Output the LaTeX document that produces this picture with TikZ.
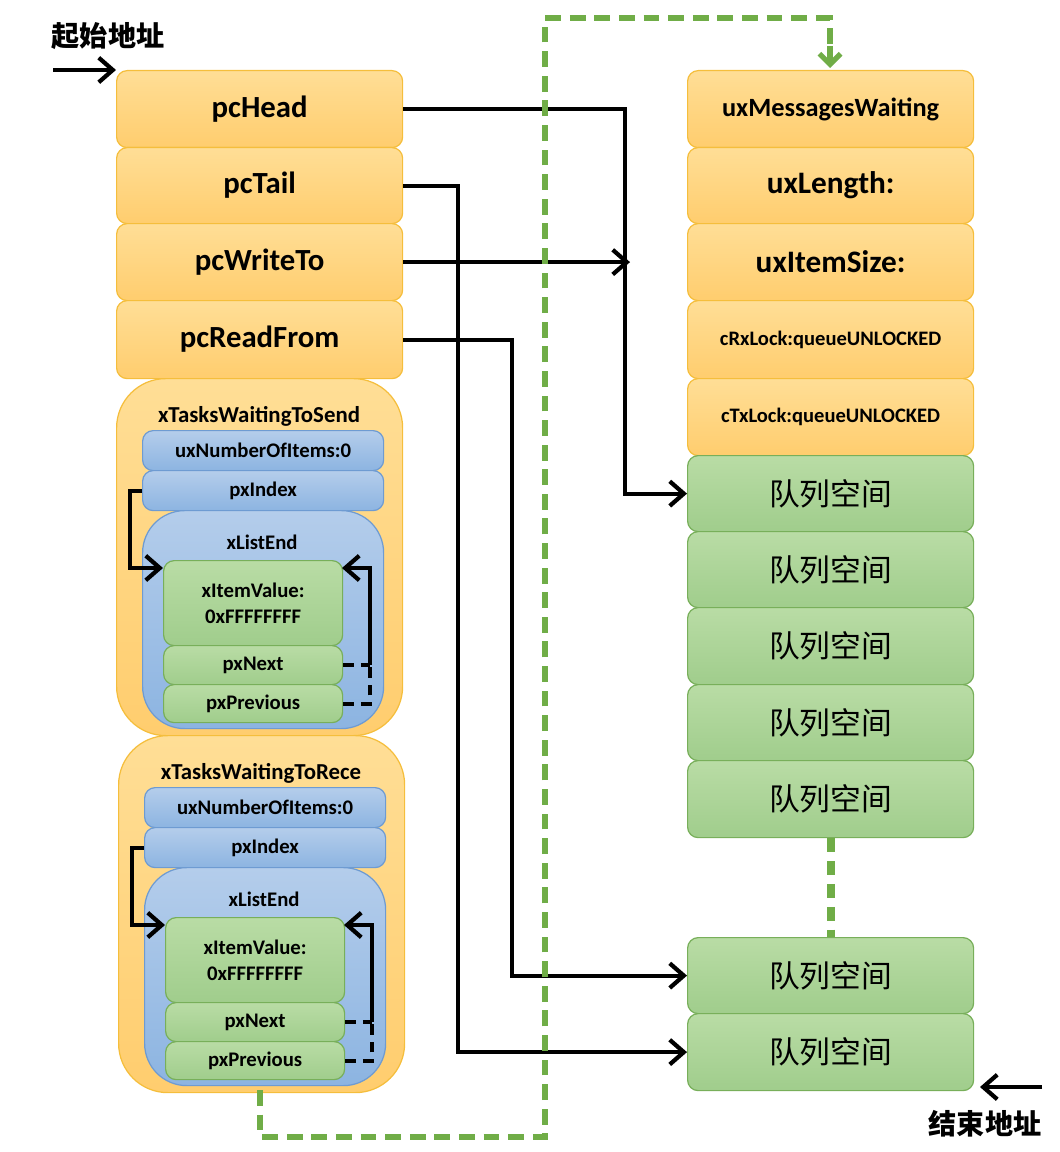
\documentclass[tikz,border=0pt]{standalone}
\usepackage{fontspec}
\setmainfont{Carlito}
\newfontfamily\cjk{Noto Sans CJK SC}
\usetikzlibrary{positioning,arrows.meta}

\definecolor{otop}{RGB}{255,222,150}
\definecolor{obot}{RGB}{255,205,110}
\definecolor{oline}{RGB}{245,190,60}
\definecolor{btop}{RGB}{180,205,235}
\definecolor{bbot}{RGB}{140,180,225}
\definecolor{bline}{RGB}{110,155,210}
\definecolor{gtop}{RGB}{185,220,165}
\definecolor{gbot}{RGB}{160,205,140}
\definecolor{gline}{RGB}{120,175,90}
\definecolor{gdashc}{RGB}{112,173,71}

\tikzset{
  box/.style={rounded corners=6pt, line width=0.7pt, inner sep=0pt, font=\bfseries},
  orange/.style={box, draw=oline, top color=otop, bottom color=obot},
  blue/.style={box, draw=bline, top color=btop, bottom color=bbot},
  green/.style={box, draw=gline, top color=gtop, bottom color=gbot},
  link/.style={line width=2.4pt, -{Straight Barb[length=8pt,width=14pt]}},
  plain/.style={line width=2.4pt},
  gdash/.style={draw=gdashc, line width=3pt, dash pattern=on 9pt off 5pt},
  small/.style={font=\bfseries\fontsize{11.8}{14}\selectfont},
}

\newcommand{\cell}[6]{% style, name, x1, y1, x2, y2
  \node[#1, minimum width=(#5-#3)*0.02cm, minimum height=(#6-#4)*0.02cm, anchor=north west]
    (#2) at (#3,#4) {};}

\begin{document}
\begin{tikzpicture}[x=0.02cm, y=-0.02cm]
\useasboundingbox (0,0) rectangle (1060,1152);

% queue structure, left column
\foreach \n/\t/\a/\b in {head/pcHead/70/147, tail/pcTail/147/223, write/pcWriteTo/223/300, read/pcReadFrom/300/378}{
  \cell{orange}{\n}{116}{\a}{402}{\b}
  \node[font=\bfseries\fontsize{17.5}{20}\selectfont] at (\n) {\t};
}

% the two event lists
\foreach \l/\dy/\dx/\t in {send/0/0/xTasksWaitingToSend, rece/357/2/xTasksWaitingToRece}{
  \begin{scope}[shift={(\dx,\dy)}]
    \cell{orange, rounded corners=28pt}{\l}{116}{378}{402}{735}
    \node[font=\bfseries\fontsize{13}{15}\selectfont] at (259,416) {\t};
    \cell{blue}{\l num}{142}{430}{383}{470}
    \node[small] at (\l num) {uxNumberOfItems:0};
    \cell{blue}{\l idx}{142}{470}{383}{510}
    \node[small] at (\l idx) {pxIndex};
    \cell{blue, rounded corners=24pt}{\l end}{142}{510}{383}{728}
    \node[small] at (262,542) {xListEnd};
    \cell{green}{\l val}{163}{560}{342}{645}
    \node[small, align=center] at (\l val) {xItemValue:\\[1pt]0xFFFFFFFF};
    \cell{green}{\l nxt}{163}{645}{342}{684}
    \node[small] at (\l nxt) {pxNext};
    \cell{green}{\l prv}{163}{684}{342}{722}
    \node[small] at (\l prv) {pxPrevious};
    % list pointers
    \coordinate (\l in) at (163,568);
    \coordinate (\l back) at (342,568);
    \coordinate (\l j) at (370,0 |- \l nxt.east);
    \draw[link] (\l idx.west) -| (130,568) -- (\l in);
    \draw[plain, dash pattern=on 6pt off 4pt] (\l nxt.east) -- (\l j);
    \draw[link] (\l j) |- (\l back);
    \draw[plain, dash pattern=on 6pt off 4pt] (\l prv.east) -| (\l j);
  \end{scope}
}

% right column
\foreach \n/\t/\s/\a/\b in {msg/uxMessagesWaiting/15/70/147, len/uxLength:/17.8/147/223,
    size/uxItemSize:/17.8/223/300, rx/cRxLock:queueUNLOCKED/11.7/300/378, tx/cTxLock:queueUNLOCKED/11.7/378/455}{
  \cell{orange}{\n}{687}{\a}{973}{\b}
  \node[font=\bfseries\fontsize{\s}{\s}\selectfont] at (\n) {\t};
}
\foreach \n/\a/\b in {q1/455/531, q2/531/607, q3/607/684, q4/684/760, q5/760/837, q6/937/1013, q7/1013/1090}{
  \cell{green}{\n}{687}{\a}{973}{\b}
  \node[font=\cjk\fontsize{17.5}{20}\selectfont] at (\n) {队列空间};
}

% pointers into the storage area
\coordinate (hx) at (625,0);
\coordinate (tx) at (458,0);
\coordinate (rx) at (512,0);
\coordinate (mid) at (630,0);
\draw[link] (head.east) -| (hx |- q1.west) -- (q1.west);
\draw[link] (tail.east) -| (tx |- q7.west) -- (q7.west);
\draw[link] (write.east) -- (mid |- write.east);
\draw[link] (read.east) -| (rx |- q6.west) -- (q6.west);

% dashed links
\draw[gdash, line width=4.5pt, dash pattern=on 8pt off 5pt] (q5.south) -- (q6.north);
\coordinate (top) at (830,68);
\draw[gdash] (260,1090) -- (260,1137) -| (545,18) -| (830,50);
\draw[draw=gdashc, line width=3pt, -{Straight Barb[length=6pt,width=12pt]}] (830,46) -- (top);

% start / end address
\coordinate (s0) at (53,70);
\coordinate (e0) at (1042,1087);
\draw[link] (s0) -- (116,70);
\draw[link] (e0) -- (980,1087);
\node[font=\cjk\bfseries\fontsize{16}{18}\selectfont] at (108,36) {起始地址};
\node[font=\cjk\bfseries\fontsize{16}{18}\selectfont] at (985,1124) {结束地址};
\end{tikzpicture}
\end{document}
